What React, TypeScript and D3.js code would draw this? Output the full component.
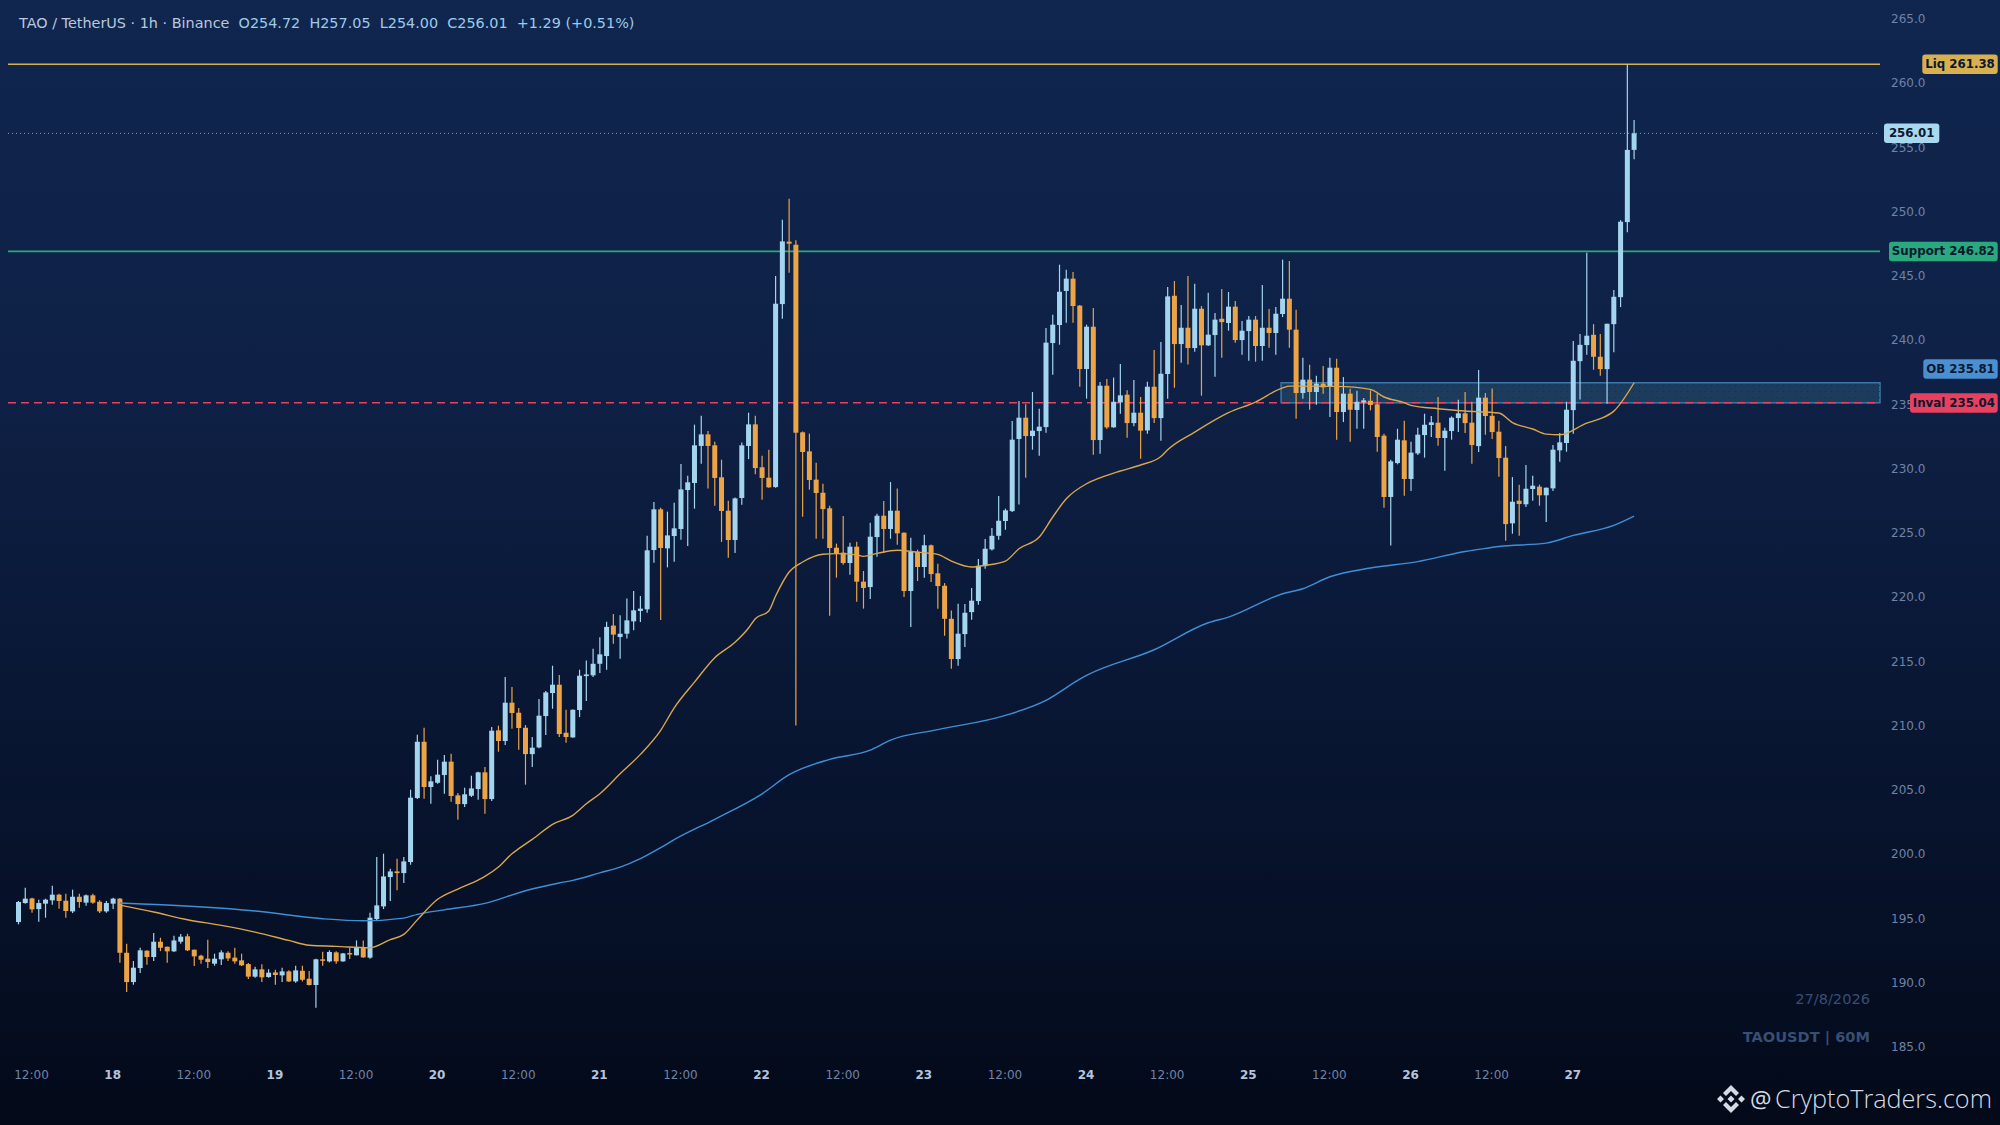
import { useEffect, useRef } from 'react';
import * as d3 from 'd3';

const WIDTH = 2000;
const HEIGHT = 1125;

const opens = [
  194.63,196.11,196.47,195.64,196.06,196.32,196.76,196.29,195.46,196.60,
  196.14,196.71,196.21,195.46,196.06,196.45,192.24,189.96,191.05,192.40,
  191.91,193.10,192.71,192.35,193.10,193.52,192.48,192.01,191.78,191.39,
  191.73,192.24,191.86,191.65,191.36,190.38,190.95,190.35,190.71,190.48,
  190.79,190.01,190.84,190.22,189.73,191.73,191.57,192.27,191.57,192.22,
  192.04,192.68,191.86,194.86,195.85,198.13,198.57,198.44,199.30,204.28,
  208.66,205.14,205.47,206.07,207.11,204.49,203.81,204.46,204.98,206.28,
  204.20,209.55,208.72,211.70,210.92,209.75,207.70,208.22,210.66,212.45,
  213.10,209.36,209.00,211.13,213.77,213.83,214.73,215.33,217.70,216.81,
  217.07,218.03,218.84,218.97,223.58,226.75,223.71,224.67,225.22,228.25,
  228.80,231.68,232.58,231.73,229.24,226.64,224.36,227.63,231.68,233.36,
  230.02,229.21,228.48,242.72,247.58,247.34,232.74,231.26,229.06,228.04,
  226.83,223.76,223.38,222.57,223.84,221.12,220.70,224.59,226.25,225.22,
  226.64,224.93,220.39,223.45,222.26,223.95,221.77,220.80,218.23,215.10,
  217.04,218.75,219.61,222.33,223.63,224.69,225.84,226.61,232.22,233.88,
  232.45,232.84,233.15,239.69,241.09,243.74,244.70,242.60,237.67,240.96,
  232.14,236.37,233.13,235.07,235.67,233.46,234.27,232.89,236.29,233.85,
  237.28,243.37,239.61,240.88,239.30,242.36,239.51,240.31,241.58,241.25,
  242.52,239.92,240.62,241.51,239.46,240.88,240.47,241.95,243.14,240.73,
  235.80,236.84,235.88,236.53,236.32,237.77,234.32,235.75,234.48,235.07,
  235.20,234.92,232.48,227.71,230.35,232.12,229.11,231.10,232.53,233.31,
  233.49,232.30,232.84,233.85,234.22,233.49,231.67,235.44,234.03,232.79,
  230.77,225.66,227.42,227.14,228.33,228.51,227.84,228.38,231.34,231.91,
  234.47,238.28,239.53,240.33,238.62,237.66,241.16,243.26,249.10,254.72,
];

const closes = [
  196.19,196.45,195.62,196.11,196.37,196.76,196.27,195.49,196.60,196.19,
  196.71,196.14,195.46,196.11,196.45,192.24,189.96,191.08,192.43,191.91,
  193.10,192.63,192.35,193.20,193.49,192.43,191.96,191.70,191.52,191.78,
  192.27,191.80,191.57,191.26,190.38,190.95,190.33,190.69,190.51,190.79,
  190.01,190.87,190.14,189.73,191.73,191.62,192.30,191.57,192.19,192.17,
  192.63,191.88,194.97,195.93,198.18,198.57,198.44,199.35,204.31,208.66,
  205.14,205.58,206.10,207.11,204.44,203.81,204.57,205.03,206.28,204.20,
  209.52,208.72,211.70,210.90,209.73,207.70,208.20,210.69,212.50,213.10,
  209.26,209.03,211.15,213.80,213.90,214.73,215.46,217.60,217.00,217.07,
  218.11,218.89,219.02,223.56,226.75,223.74,224.72,225.27,228.30,228.85,
  231.73,232.58,231.68,229.19,226.62,224.36,227.60,231.73,233.36,229.96,
  229.19,228.46,242.75,247.60,247.42,232.71,231.21,229.03,228.02,226.77,
  223.74,223.35,222.57,223.84,221.12,220.63,224.62,226.25,225.22,226.64,
  224.88,220.39,223.45,222.26,223.95,221.71,220.78,218.23,215.10,217.07,
  218.70,219.64,222.36,223.68,224.69,225.86,226.67,232.17,233.88,232.45,
  232.87,233.18,239.72,241.12,243.68,244.70,242.57,237.67,240.96,232.14,
  236.37,233.13,235.12,235.62,233.46,234.27,232.87,236.29,233.85,237.30,
  243.32,239.61,240.88,239.30,242.36,239.51,240.34,241.51,241.32,242.52,
  239.92,240.65,241.51,239.46,240.88,240.47,241.97,243.14,240.73,235.80,
  236.84,235.88,236.53,236.24,237.77,234.32,235.75,234.50,235.12,235.23,
  234.87,232.38,227.71,230.48,232.17,229.11,231.16,232.56,233.33,233.52,
  232.30,232.87,233.88,234.22,233.46,231.75,235.44,234.01,232.76,230.74,
  225.60,227.34,227.16,228.35,228.59,227.84,228.43,231.39,231.96,234.50,
  238.31,239.55,240.26,238.62,237.66,241.19,243.29,249.13,254.72,256.01,
];

const highs = [
  196.27,197.30,196.52,196.37,196.45,197.46,196.84,196.84,197.15,196.84,
  196.78,196.84,196.32,196.27,196.52,196.50,192.94,191.60,192.63,192.43,
  193.78,193.41,192.71,193.57,193.70,193.72,192.48,192.09,193.26,192.17,
  192.43,192.35,192.63,192.17,191.44,191.16,191.34,190.95,190.92,191.08,
  190.87,191.23,191.23,190.82,191.78,192.32,192.43,192.35,192.22,192.63,
  193.20,193.20,195.36,199.69,199.95,198.78,199.56,199.69,204.93,209.21,
  209.75,205.97,207.26,207.63,207.73,204.67,205.08,206.02,206.33,206.69,
  209.81,209.91,213.70,212.92,211.28,209.96,209.03,211.98,212.61,214.58,
  213.85,211.15,211.18,214.27,214.99,215.90,216.80,218.00,218.60,218.50,
  219.80,220.39,220.00,224.70,227.32,226.88,226.57,227.27,230.28,229.37,
  233.34,234.04,232.84,232.01,230.61,227.42,227.66,231.94,234.27,234.04,
  230.92,231.39,244.90,249.29,250.92,247.68,232.80,232.64,230.38,228.74,
  227.03,224.08,226.23,224.15,224.23,221.95,225.71,226.41,227.40,228.87,
  228.36,224.95,224.54,223.61,224.78,224.02,222.52,221.01,218.88,219.40,
  219.38,220.62,222.88,224.43,225.29,227.78,226.80,233.62,235.18,234.92,
  235.88,234.58,240.86,241.89,245.79,245.40,245.21,242.65,241.12,242.41,
  236.66,236.89,237.00,238.06,236.01,236.81,235.49,236.68,239.15,239.77,
  244.05,244.52,242.65,244.90,244.31,242.57,243.61,242.03,243.89,243.66,
  242.96,241.40,241.79,241.79,244.20,242.34,242.49,246.18,246.07,242.28,
  238.55,238.00,237.15,237.90,238.55,238.47,237.04,236.14,235.98,235.41,
  236.01,235.75,232.63,230.61,233.02,233.65,232.01,233.10,234.19,234.01,
  235.49,233.10,233.98,235.28,235.88,235.12,237.59,235.80,236.16,233.65,
  231.67,229.26,228.67,230.20,229.37,228.67,228.45,231.75,232.69,235.12,
  239.84,240.39,246.71,241.16,240.39,241.19,243.81,249.26,261.38,257.05,
];

const lows = [
  194.45,196.06,195.36,194.66,194.97,195.98,195.67,194.97,195.33,195.75,
  195.90,196.06,195.33,195.36,195.64,191.47,189.18,189.75,190.66,191.31,
  191.60,192.37,191.47,192.30,192.94,192.37,191.21,191.39,191.05,191.23,
  191.28,191.60,191.39,191.21,190.20,190.30,189.96,190.30,189.75,189.96,
  189.96,189.91,190.01,189.70,187.96,191.23,191.49,191.39,191.54,191.75,
  192.04,191.86,191.78,194.71,195.64,196.27,197.10,197.67,199.09,204.20,
  204.23,203.84,205.40,204.62,204.00,202.59,203.58,204.36,204.15,203.06,
  204.05,207.89,208.40,209.68,208.04,205.32,206.69,208.15,209.18,211.23,
  209.03,208.59,208.97,210.58,211.83,213.70,214.01,214.27,216.29,215.12,
  216.70,217.33,217.98,218.71,222.60,218.14,222.23,222.67,224.39,223.89,
  226.80,230.30,228.36,227.03,224.21,222.99,223.35,227.11,230.66,229.47,
  227.50,228.43,228.43,241.58,245.16,209.93,226.18,228.28,224.46,224.46,
  218.47,221.43,222.44,221.66,219.56,219.02,219.77,223.06,223.35,224.46,
  224.00,219.93,217.59,221.17,221.43,221.09,219.02,216.91,214.34,214.58,
  216.03,218.16,219.32,222.13,223.55,224.38,225.16,226.55,227.13,229.21,
  231.39,230.92,232.71,237.22,239.56,241.27,241.27,236.29,235.36,231.00,
  231.08,233.00,233.10,234.19,232.32,233.21,230.69,232.63,233.46,232.09,
  235.36,236.21,238.16,238.02,239.02,235.59,239.46,237.07,238.55,240.65,
  239.72,238.78,238.32,238.24,238.32,239.33,238.78,241.71,239.33,233.80,
  235.36,234.50,234.89,235.75,233.93,232.17,233.54,232.00,233.02,233.02,
  234.45,231.23,226.88,223.94,230.25,227.81,228.17,230.97,230.77,232.37,
  231.70,229.75,232.17,232.76,232.69,230.30,231.21,232.56,232.22,229.29,
  224.31,224.85,224.70,226.93,227.42,227.03,225.76,228.17,230.46,231.23,
  232.63,235.30,238.78,237.61,237.14,234.96,238.98,242.49,248.32,254.00,
];

const emaFastBars = [15,20,25,30,35,40,43,47,52,55,57,59,62,65,68,69,71,73,74,76,79,82,84,86,89,92,95,97,100,103,106,108,109,111,112,114,116,119,121,124,125,127,130,133,136,138,141,143,146,148,151,153,155,158,160,163,166,169,170,174,179,183,187,188,195,200,202,205,206,210,214,219,221,224,226,228,232,234,236,239];
const emaFastValues = [195.95,195.41,194.81,194.37,193.85,193.20,192.82,192.74,192.63,193.26,193.67,194.8,196.4,197.2,197.9,198.18,198.91,199.95,200.34,201.06,202.23,202.93,203.84,204.62,206.17,207.68,209.55,211.3,213.3,215.2,216.4,217.51,218.24,218.84,220.0,221.87,222.65,223.25,223.30,223.2,223.09,223.32,223.56,223.42,223.24,222.72,222.26,222.39,222.72,223.68,224.59,226.15,227.57,228.74,229.2,229.73,230.2,230.86,231.39,232.76,234.27,235.10,236.2,236.34,236.32,236.08,235.49,235.05,234.84,234.58,234.40,234.24,233.5,233.0,232.6,232.55,233.46,233.8,234.39,236.6];
const emaSlowBars = [15,35,45,51,57,59,63,69,75,80,82,86,89,92,95,97,103,110,114,120,126,129,136,146,152,157,158,168,176,179,187,190,194,200,207,214,216,219,226,230,236,239];
const emaSlowValues = [196.11,195.49,194.89,194.73,194.94,195.23,195.58,196.08,197.07,197.67,197.87,198.46,198.9,199.56,200.42,201.04,202.63,204.61,206.1,207.29,208.01,208.79,209.6,210.71,211.88,213.53,213.82,215.82,217.92,218.36,220.18,220.57,221.5,222.18,222.68,223.47,223.63,223.86,224.12,224.72,225.5,226.22];

const priceTicks = d3.range(185, 266, 5);
// first candle is 17th 10:00, so bar 2 is 12:00 and bar 14 is midnight of the 18th
const timeTickBars = d3.range(2, 231, 12);
const timeTickLabels = ['12:00','18','12:00','19','12:00','20','12:00','21','12:00','22','12:00','23','12:00','24','12:00','25','12:00','26','12:00','27'];

const lastPrice = 256.01;
const levels = [
  { name: 'Liq', value: 261.38, color: '#d9b04f', dash: '' },
  { name: 'Support', value: 246.82, color: '#2aa97f', dash: '' },
  { name: 'Inval', value: 235.04, color: '#e8405f', dash: '8 5' },
];
const obZone = { label: 235.81, low: 235.04, high: 236.6, startBar: 187 };

const titleLeft = 'TAO / TetherUS · 1h · Binance  ';
const titleRight = 'O254.72  H257.05  L254.00  C256.01  +1.29 (+0.51%)';

const FONT = '"DejaVu Sans", sans-serif';

export default function App() {
  const svgRef = useRef<SVGSVGElement>(null);

  useEffect(() => {
    if (!svgRef.current) return;
    const svg = d3.select(svgRef.current);
    svg.selectAll('*').remove();

    const x = d3.scaleLinear().domain([0, 239]).range([18.5, 1634.1]);
    const y = d3.scaleLinear().domain([265, 185]).range([17.8, 1045.8]);
    const plotLeft = 8;
    const plotRight = 1880;

    const defs = svg.append('defs');
    const grad = defs.append('linearGradient')
      .attr('id', 'bg').attr('x1', 0).attr('y1', 0).attr('x2', 0).attr('y2', 1);
    [[0, '#10264f'], [0.35, '#0e2045'], [0.62, '#091734'], [0.82, '#061027'], [1, '#030918']].forEach(([o, c]) => {
      grad.append('stop').attr('offset', o as number).attr('stop-color', c as string);
    });
    const dots = defs.append('pattern')
      .attr('id', 'obDots').attr('width', 6).attr('height', 6)
      .attr('patternUnits', 'userSpaceOnUse');
    dots.append('circle').attr('cx', 1.5).attr('cy', 1.5).attr('r', 0.6).attr('fill', '#0e2045');

    svg.append('rect').attr('width', WIDTH).attr('height', HEIGHT).attr('fill', 'url(#bg)');

    // order block zone
    const obX = x(obZone.startBar) - 1.5;
    const ob = svg.append('g');
    ob.append('rect')
      .attr('x', obX).attr('y', y(obZone.high))
      .attr('width', plotRight - obX).attr('height', y(obZone.low) - y(obZone.high))
      .attr('fill', '#4a90a8').attr('fill-opacity', 0.25)
      .attr('stroke', '#3a78a6').attr('stroke-width', 1.5);
    ob.append('rect')
      .attr('x', obX).attr('y', y(obZone.high))
      .attr('width', plotRight - obX).attr('height', y(obZone.low) - y(obZone.high))
      .attr('fill', 'url(#obDots)').attr('opacity', 0.7);

    // last price line
    svg.append('line')
      .attr('x1', plotLeft).attr('x2', plotRight)
      .attr('y1', y(lastPrice)).attr('y2', y(lastPrice))
      .attr('stroke', '#a8d8f0').attr('stroke-opacity', 0.7)
      .attr('stroke-dasharray', '1 3');

    // horizontal levels
    svg.append('g').selectAll('line')
      .data(levels)
      .join('line')
      .attr('x1', plotLeft).attr('x2', plotRight)
      .attr('y1', d => y(d.value)).attr('y2', d => y(d.value))
      .attr('stroke', d => d.color)
      .attr('stroke-width', 1.6)
      .attr('stroke-dasharray', d => d.dash);

    // candles
    const candles = opens.map((o, i) => ({ i, o, c: closes[i], h: highs[i], l: lows[i] }));
    const colorOf = (d: { o: number; c: number }) => (d.c >= d.o ? '#a3d5ef' : '#eca446');
    const candle = svg.append('g').selectAll('g').data(candles).join('g');
    candle.append('line')
      .attr('x1', d => x(d.i)).attr('x2', d => x(d.i))
      .attr('y1', d => y(d.h)).attr('y2', d => y(d.l))
      .attr('stroke', colorOf).attr('stroke-width', 1.2);
    candle.append('rect')
      .attr('x', d => x(d.i) - 2.5)
      .attr('width', 5)
      .attr('y', d => y(Math.max(d.o, d.c)))
      .attr('height', d => Math.max(1.5, Math.abs(y(d.o) - y(d.c))))
      .attr('fill', colorOf);

    // moving averages
    const line = d3.line<[number, number]>().x(d => x(d[0])).y(d => y(d[1])).curve(d3.curveMonotoneX);
    svg.append('path')
      .attr('d', line(d3.zip(emaSlowBars, emaSlowValues) as [number, number][]))
      .attr('fill', 'none').attr('stroke', '#3f8fd6').attr('stroke-width', 1.4);
    svg.append('path')
      .attr('d', line(d3.zip(emaFastBars, emaFastValues) as [number, number][]))
      .attr('fill', 'none').attr('stroke', '#dba64c').attr('stroke-width', 1.4);

    // price axis
    const yAxis = svg.append('g')
      .attr('transform', 'translate(1891,0.9)')
      .call(d3.axisRight(y).tickValues(priceTicks).tickSize(0).tickPadding(0).tickFormat(d => (d as number).toFixed(1)));
    yAxis.select('.domain').remove();
    yAxis.selectAll('text')
      .attr('fill', '#6f83a8').style('font-family', FONT).style('font-size', '12px');

    // time axis
    const xAxis = svg.append('g')
      .attr('transform', 'translate(-1,1070.5)')
      .call(d3.axisBottom(x).tickValues(timeTickBars).tickSize(0).tickPadding(0)
        .tickFormat((_, i) => timeTickLabels[i]));
    xAxis.select('.domain').remove();
    xAxis.selectAll<SVGTextElement, number>('text')
      .attr('fill', (_, i) => (i % 2 === 0 ? '#6f83a8' : '#b4c4dc'))
      .style('font-family', FONT)
      .style('font-size', '12px')
      .style('font-weight', (_, i) => (i % 2 === 0 ? 'normal' : 'bold'));

    // right hand tags
    const tags = [
      { text: `Liq ${levels[0].value}`, fill: levels[0].color, left: 1922.3, right: 1997.7, mid: 64.3 },
      { text: `${lastPrice}`, fill: '#a8d8f0', left: 1884, right: 1939.3, mid: 133.3 },
      { text: `Support ${levels[1].value}`, fill: levels[1].color, left: 1889, right: 1997.7, mid: 251.5 },
      { text: `OB ${obZone.label}`, fill: '#4a8fd0', left: 1923.3, right: 1997.7, mid: 369 },
      { text: `Inval ${levels[2].value}`, fill: levels[2].color, left: 1910, right: 1997.7, mid: 403 },
    ];
    const tag = svg.append('g').selectAll('g').data(tags).join('g');
    tag.append('rect')
      .attr('x', d => d.left).attr('width', d => d.right - d.left)
      .attr('y', d => d.mid - 9.7).attr('height', 19.4)
      .attr('rx', 3).attr('fill', d => d.fill);
    tag.append('text')
      .attr('x', d => (d.left + d.right) / 2)
      .attr('y', d => d.mid)
      .attr('dy', '0.3em')
      .attr('text-anchor', 'middle')
      .attr('fill', '#0b1830')
      .style('font-family', FONT).style('font-size', '11.8px').style('font-weight', 'bold')
      .text(d => d.text);

    // title
    const title = svg.append('text')
      .attr('x', 19).attr('y', 28)
      .style('font-family', FONT).style('font-size', '14.4px').style('white-space', 'pre');
    title.append('tspan').attr('fill', '#b9c9dc').text(titleLeft);
    title.append('tspan').attr('fill', '#9ccbe9').text(titleRight);

    // footer
    svg.append('text')
      .attr('x', 1870).attr('y', 1004)
      .attr('text-anchor', 'end').attr('fill', '#374e75')
      .style('font-family', FONT).style('font-size', '14.6px')
      .text('27/8/2026');
    svg.append('text')
      .attr('x', 1870).attr('y', 1042)
      .attr('text-anchor', 'end').attr('fill', '#374e75')
      .style('font-family', FONT).style('font-size', '14.6px').style('font-weight', 'bold')
      .text('TAOUSDT | 60M');

    // watermark
    const mark = svg.append('g').attr('transform', 'translate(1731,1099)').attr('fill', '#d5dbe5');
    mark.append('path').attr('d', 'M0-14 8-6 5-3 0-8-5-3-8-6Z M0 14 8 6 5 3 0 8-5 3-8 6Z M-14 0-10.500-3.500-7 0-10.500 3.500Z M14 0 10.500-3.500 7 0 10.500 3.500Z M0-3.500 3.500 0 0 3.500-3.500 0Z');
    svg.append('text')
      .attr('x', 1750).attr('y', 1108)
      .attr('fill', '#d5dbe5')
      .style('font-family', '"Open Sans", sans-serif').style('font-size', '24px')
      .text('@');
    svg.append('text')
      .attr('x', 1775).attr('y', 1108)
      .attr('fill', '#d5dbe5')
      .style('font-family', '"Open Sans", sans-serif').style('font-size', '25.2px').style('font-weight', 300)
      .text('CryptoTraders.com');
  }, []);

  return (
    <div style={{ position: 'absolute', left: 0, top: 0, width: WIDTH, height: HEIGHT }}>
      <svg ref={svgRef} width={WIDTH} height={HEIGHT} style={{ display: 'block' }} />
    </div>
  );
}
